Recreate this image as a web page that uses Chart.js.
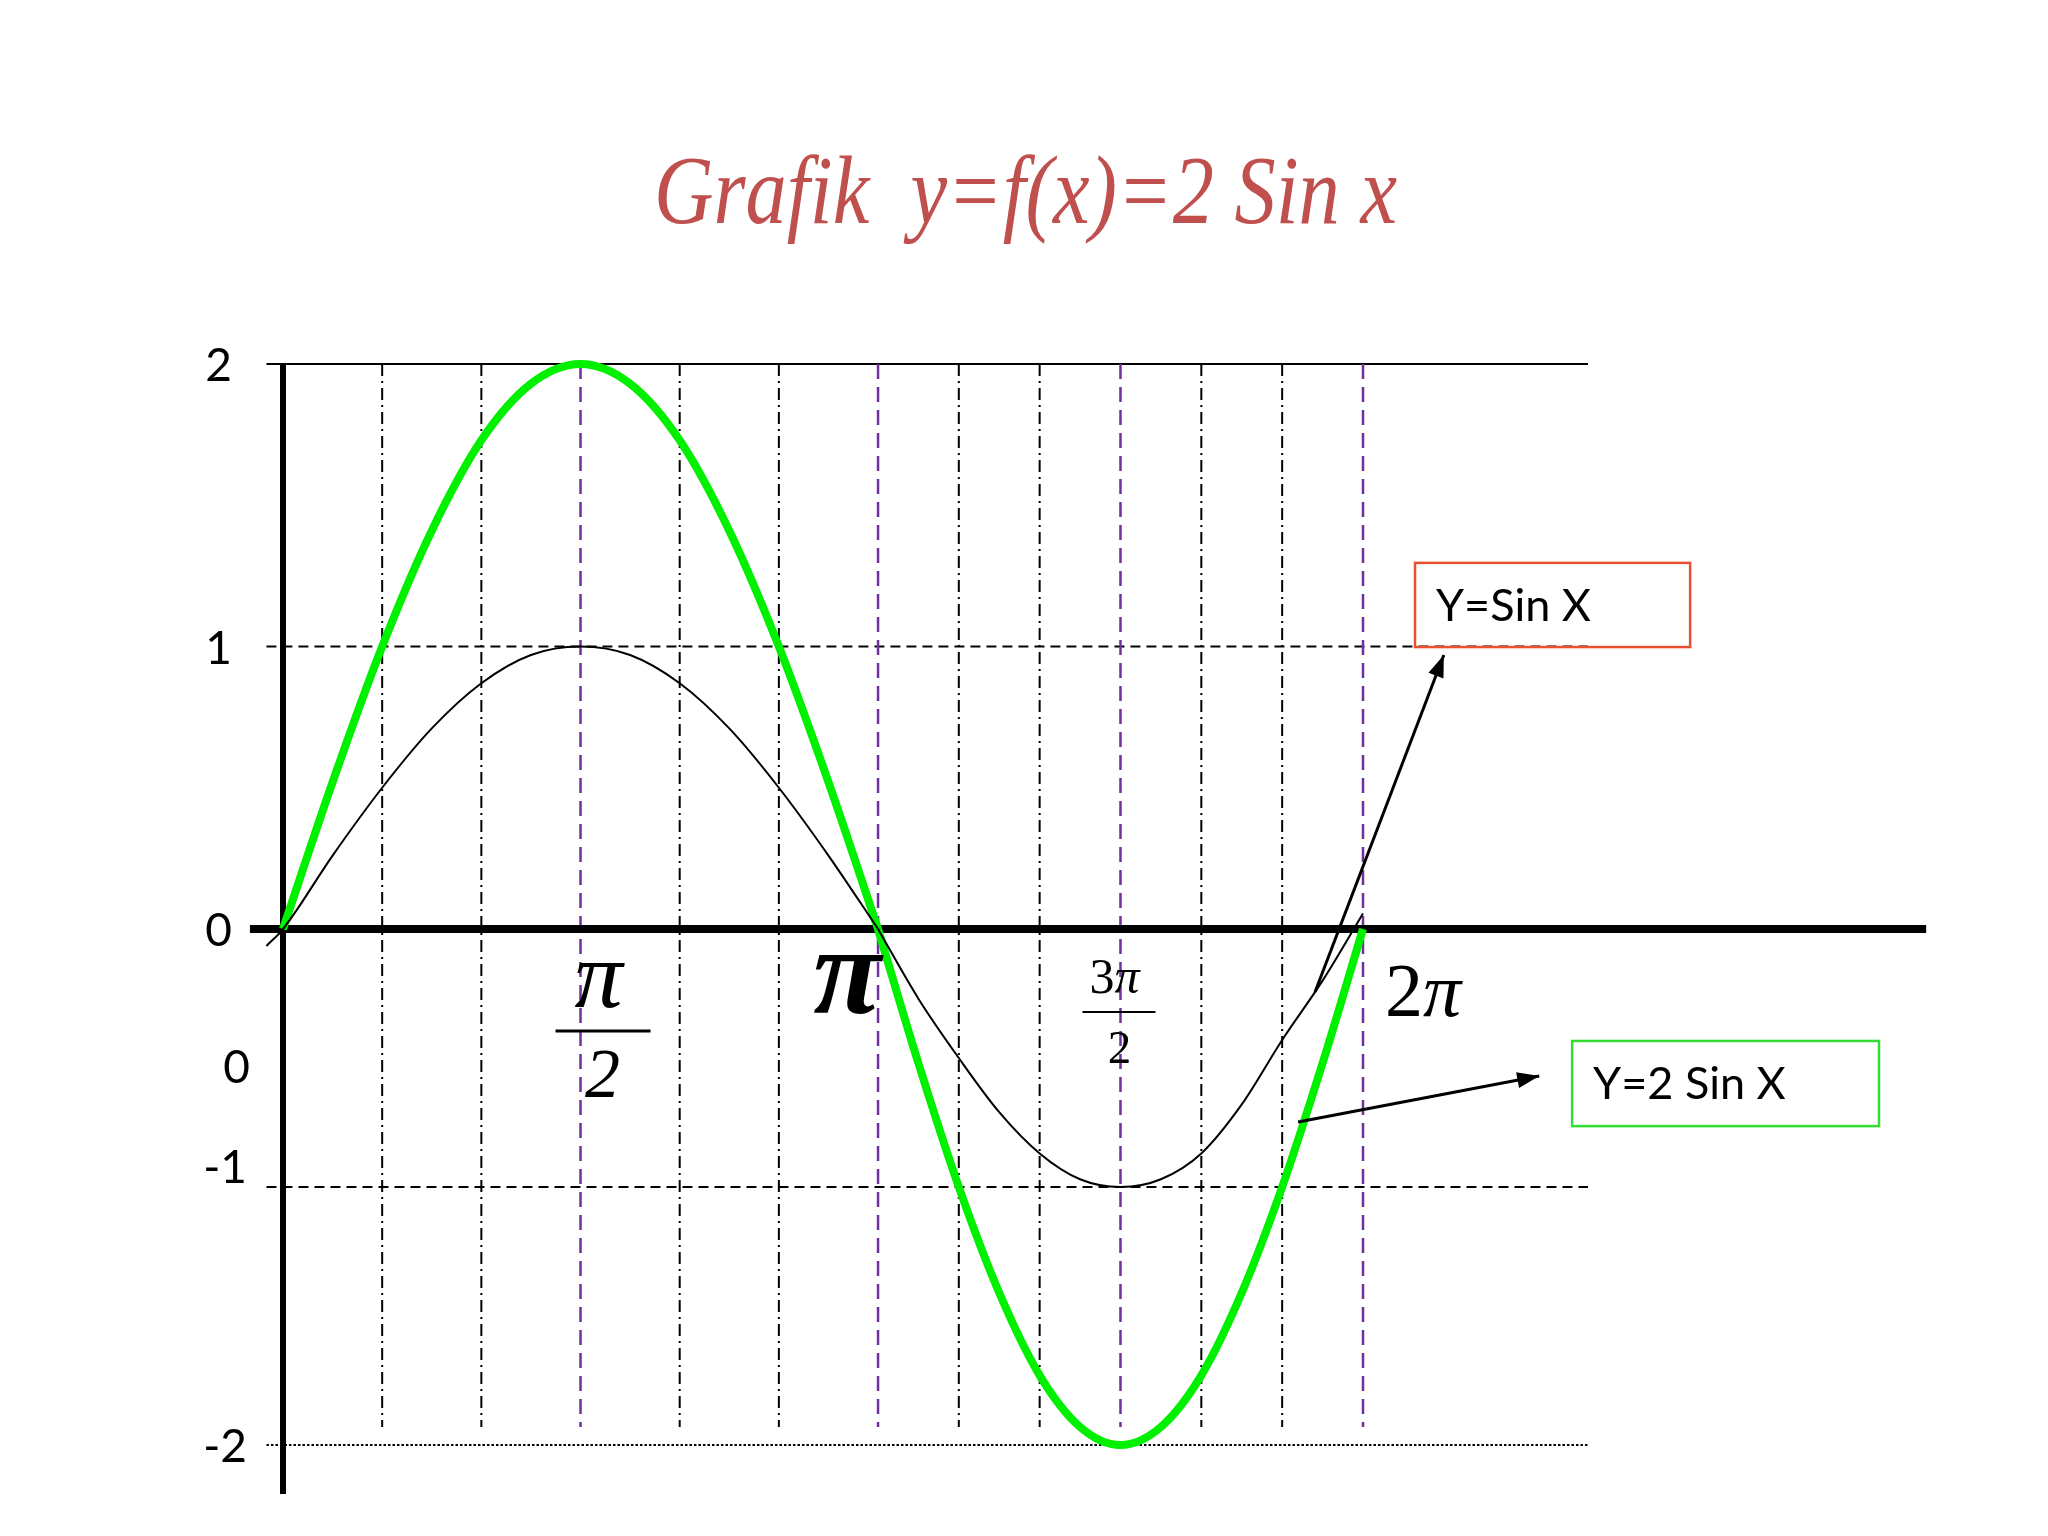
<!DOCTYPE html>
<html>
<head>
<meta charset="utf-8">
<title>Grafik y=f(x)=2 Sin x</title>
<script src="https://cdn.jsdelivr.net/npm/chart.js@4.4.1/dist/chart.umd.min.js"></script>
<style>
  html, body { margin: 0; padding: 0; background: #fff; }
  canvas { display: block; }
</style>
</head>
<body>
<canvas id="sinChart" width="2048" height="1536"></canvas>
<script>
// angles in degrees
// the picture is hand drawn: 0..180 and 180..360 are not on the same scale,
// so each half gets its own x/y scale pair
const sinDegFirst = [-5, 0, 15, 30, 45, 60, 75, 90, 105, 120, 135, 150, 165, 180];
const sinFirst    = [-0.06, 0, 0.26, 0.5, 0.71, 0.87, 0.97, 1, 0.97, 0.87, 0.71, 0.5, 0.26, 0];
const degFirst    = [0, 15, 30, 45, 60, 75, 90, 105, 120, 135, 150, 165, 180];
const twoSinFirst = [0, 0.52, 1, 1.41, 1.73, 1.93, 2, 1.93, 1.73, 1.41, 1, 0.52, 0];

const degSecond    = [180, 195, 210, 225, 240, 255, 270, 285, 300, 315, 330, 345, 360];
const sinSecond    = [0, -0.27, -0.5, -0.71, -0.87, -0.97, -1, -0.97, -0.87, -0.68, -0.43, -0.2, 0.06];
const twoSinSecond = [0, -0.52, -1, -1.41, -1.73, -1.93, -2, -1.93, -1.73, -1.41, -1, -0.52, 0];

// grid and ticks
const gridDeg     = [30, 60, 90, 120, 150, 180, 210, 240, 270, 300, 330, 360];
const piGridDeg   = [90, 180, 270, 360];
const yGridValues = [2, 1, -1, -2];
const yTickValues = [2, 1, 0, -0.53, -1, -2];
const yTickLabels = ['2', '1', '0', '0', '-1', '-2'];

const titleText   = 'Grafik  y=f(x)=2 Sin x';
const legendTexts = ['Y=Sin X', 'Y=2 Sin X'];

const pts = (xs, ys) => xs.map((x, i) => ({ x: x, y: ys[i] }));

const GREEN = '#00f000';
const PURPLE = '#7030a0';

function mapper(chart) {
  const s = chart.scales;
  return {
    px: d => (d <= 180 ? s.xa : s.xb).getPixelForValue(d),
    py: v => (v >= 0 ? s.ya : s.yb).getPixelForValue(v)
  };
}

function line(ctx, x1, y1, x2, y2, color, width, dash) {
  ctx.save();
  ctx.strokeStyle = color;
  ctx.lineWidth = width;
  ctx.setLineDash(dash || []);
  ctx.beginPath();
  ctx.moveTo(x1, y1);
  ctx.lineTo(x2, y2);
  ctx.stroke();
  ctx.restore();
}

function arrow(ctx, x1, y1, x2, y2) {
  line(ctx, x1, y1, x2, y2, '#000', 3);
  const a = Math.atan2(y2 - y1, x2 - x1);
  const len = 22, half = 8;
  ctx.save();
  ctx.fillStyle = '#000';
  ctx.beginPath();
  ctx.moveTo(x2, y2);
  ctx.lineTo(x2 - len * Math.cos(a) + half * Math.sin(a), y2 - len * Math.sin(a) - half * Math.cos(a));
  ctx.lineTo(x2 - len * Math.cos(a) - half * Math.sin(a), y2 - len * Math.sin(a) + half * Math.cos(a));
  ctx.closePath();
  ctx.fill();
  ctx.restore();
}

const decor = {
  id: 'decor',
  beforeDatasetsDraw(chart) {
    const ctx = chart.ctx;
    const { px, py } = mapper(chart);
    const left = px(-5), right = px(443.5);

    // horizontal grid
    yGridValues.forEach(v => {
      let dash = [10, 6];
      if (v === 2) dash = [];
      if (v === -2) dash = [2.5, 2];
      line(ctx, left, py(v), right, py(v), '#000', 2, dash);
    });

    // vertical grid
    const top = py(2), bottom = py(-1.93);
    gridDeg.forEach(d => {
      if (piGridDeg.includes(d)) {
        line(ctx, px(d), top, px(d), bottom, PURPLE, 2.5, [15, 8]);
      } else {
        line(ctx, px(d), top, px(d), bottom, '#000', 2, [12, 5, 2, 5]);
      }
    });

    // axes
    line(ctx, px(0), py(2), px(0), py(-2.19), '#000', 6);
    line(ctx, px(-10), py(0), px(569), py(0), '#000', 8);
  },
  afterDatasetsDraw(chart) {
    const ctx = chart.ctx;
    const { px, py } = mapper(chart);
    const serif = '"Liberation Serif", "Times New Roman", serif';

    // y tick labels
    ctx.save();
    ctx.fillStyle = '#000';
    ctx.font = '46px Lato, "Open Sans", sans-serif';
    ctx.textAlign = 'right';
    ctx.textBaseline = 'alphabetic';
    yTickValues.forEach((v, i) => {
      const neg = v < -0.9;
      const x = neg ? 247 : (v < 0 ? 250 : 232);
      const y = v === -1 ? py(v) - 4 : py(v) + 17;
      ctx.fillText(yTickLabels[i], x, y);
    });
    ctx.restore();

    // x labels at the purple lines
    ctx.save();
    ctx.fillStyle = '#000';
    ctx.strokeStyle = '#000';
    ctx.textAlign = 'center';
    ctx.textBaseline = 'alphabetic';
    const base = py(0);

    // pi / 2
    let cx = px(90) + 22;
    ctx.font = 'italic 96px ' + serif;
    ctx.fillText('π', cx - 4, base + 78);
    line(ctx, cx - 47, base + 102, cx + 48, base + 102, '#000', 3);
    ctx.font = 'italic 70px ' + serif;
    ctx.fillText('2', cx, base + 168);

    // pi
    cx = px(180) - 31;
    ctx.font = 'bold italic 124px ' + serif;
    ctx.fillText('π', cx, base + 84);

    // 3pi / 2
    cx = px(270) - 2;
    ctx.font = '50px ' + serif;
    ctx.textAlign = 'right';
    ctx.fillText('3', cx - 4, base + 64);
    ctx.textAlign = 'left';
    ctx.font = 'italic 50px ' + serif;
    ctx.fillText('π', cx - 4, base + 64);
    line(ctx, cx - 36, base + 83, cx + 37, base + 83, '#000', 2);
    ctx.textAlign = 'center';
    ctx.font = '47px ' + serif;
    ctx.fillText('2', cx + 1, base + 134);

    // 2pi
    cx = px(360) + 72;
    ctx.font = '76px ' + serif;
    ctx.textAlign = 'right';
    ctx.fillText('2', cx - 12, base + 87);
    ctx.textAlign = 'left';
    ctx.font = 'italic 76px ' + serif;
    ctx.fillText('π', cx - 12, base + 87);
    ctx.restore();

    // legend boxes with arrows
    ctx.save();
    ctx.lineWidth = 2.5;
    ctx.strokeStyle = '#e9502f';
    ctx.strokeRect(px(379.3), py(1.296), px(481.4) - px(379.3), py(0.998) - py(1.296));
    ctx.strokeStyle = '#33dd33';
    ctx.strokeRect(px(437.6), py(-0.434), px(551.5) - px(437.6), py(-0.764) - py(-0.434));
    ctx.fillStyle = '#000';
    ctx.font = '45px Lato, "Open Sans", sans-serif';
    ctx.textAlign = 'left';
    ctx.textBaseline = 'alphabetic';
    ctx.fillText(legendTexts[0], px(387.1), py(1.09));
    ctx.fillText(legendTexts[1], px(445.4), py(-0.659));
    ctx.restore();

    arrow(ctx, px(342.2), py(-0.244), px(390), py(0.97));
    arrow(ctx, px(335.9), py(-0.748), px(425.4), py(-0.57));

    // title, condensed to the width of the original
    ctx.save();
    ctx.fillStyle = '#c0504d';
    ctx.font = 'italic 97px ' + serif;
    ctx.textBaseline = 'alphabetic';
    ctx.textAlign = 'left';
    const w = ctx.measureText(titleText).width;
    const target = 743;
    ctx.translate(654, 223);
    ctx.scale(target / w, 1);
    ctx.fillText(titleText, 0, 0);
    ctx.restore();
  }
};

const lineStyle = {
  pointRadius: 0,
  fill: false,
  cubicInterpolationMode: 'monotone',
  clip: false,
  borderCapStyle: 'butt'
};

new Chart(document.getElementById('sinChart').getContext('2d'), {
  type: 'line',
  data: {
    datasets: [
      Object.assign({ label: 'Y=Sin X', data: pts(sinDegFirst, sinFirst), xAxisID: 'xa', yAxisID: 'ya',
        borderColor: '#000', borderWidth: 2 }, lineStyle),
      Object.assign({ label: 'Y=Sin X', data: pts(degSecond, sinSecond), xAxisID: 'xb', yAxisID: 'yb',
        borderColor: '#000', borderWidth: 2 }, lineStyle),
      Object.assign({ label: 'Y=2 Sin X', data: pts(degFirst, twoSinFirst), xAxisID: 'xa', yAxisID: 'ya',
        borderColor: GREEN, borderWidth: 8 }, lineStyle),
      Object.assign({ label: 'Y=2 Sin X', data: pts(degSecond, twoSinSecond), xAxisID: 'xb', yAxisID: 'yb',
        borderColor: GREEN, borderWidth: 8 }, lineStyle)
    ]
  },
  options: {
    responsive: false,
    animation: false,
    layout: { padding: { left: 283, right: 685, top: 364, bottom: 91 } },
    plugins: {
      legend: { display: false },
      tooltip: { enabled: false },
      title: { display: false }
    },
    scales: {
      // 0 deg at the y axis, 180 deg where both curves cross
      xa: { type: 'linear', display: false, min: 0, max: 326.7 },
      xb: { type: 'linear', display: false, min: -40.8, max: 360 },
      ya: { type: 'linear', display: false, min: -1.8265, max: 2 },
      yb: { type: 'linear', display: false, min: -2, max: 2.19 }
    }
  },
  plugins: [decor]
});
</script>
</body>
</html>
